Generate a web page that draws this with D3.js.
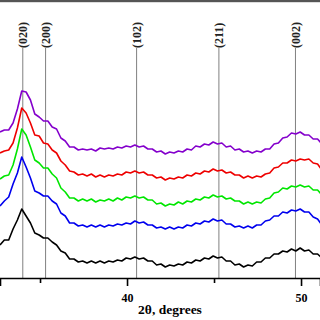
<!DOCTYPE html>
<html><head><meta charset="utf-8">
<script src="https://cdn.jsdelivr.net/npm/d3@7"></script>
<style>html,body{margin:0;padding:0;background:#fff;}svg{display:block;}</style>
</head><body>
<svg id="chart" width="320" height="320"></svg>
<script>
// 2θ grid (degrees)
const twoTheta = [32.70,32.95,33.20,33.45,33.70,33.95,34.20,34.45,34.70,34.95,35.20,35.45,35.70,35.95,36.20,36.45,36.70,36.95,37.20,37.45,37.70,37.95,38.20,38.45,38.70,38.95,39.20,39.45,39.70,39.95,40.20,40.45,40.70,40.95,41.20,41.45,41.70,41.95,42.20,42.45,42.70,42.95,43.20,43.45,43.70,43.95,44.20,44.45,44.70,44.95,45.20,45.45,45.70,45.95,46.20,46.45,46.70,46.95,47.20,47.45,47.70,47.95,48.20,48.45,48.70,48.95,49.20,49.45,49.70,49.95,50.20,50.45,50.70,50.95,51.20];
// intensities (a.u., stacked offsets)
const black  = [33,38,38,49,58,69,62,55,45,43,40,40,36,33,27,25,19,19,16,17,15,17,15,17,15,17,16,18,17,20,19,21,19,20,17,17,13,14,11,13,12,14,13,16,15,18,17,20,19,22,20,21,17,17,13,14,11,13,12,16,16,20,20,24,24,27,26,29,27,30,27,28,24,24,20];
const blue   = [72,77,81,94,105,121,111,100,87,85,82,82,77,74,65,62,55,55,52,53,51,53,51,53,51,53,52,54,53,55,54,57,55,56,53,53,50,51,49,51,49,51,50,53,52,55,54,57,56,59,57,58,54,54,51,52,50,52,50,53,53,57,58,62,62,66,65,68,67,69,66,66,61,59,53];
const green  = [99,102,103,113,129,149,143,131,118,115,110,110,104,100,90,86,80,80,77,79,77,79,76,78,77,79,77,80,78,81,80,82,80,81,78,78,74,75,72,74,73,76,74,77,76,79,78,81,80,83,81,82,79,80,77,77,74,76,74,76,75,79,80,85,86,90,89,92,91,93,91,92,88,88,83];
const red    = [125,127,128,135,150,170,165,155,143,142,135,134,128,125,117,113,107,106,103,104,102,104,101,103,101,103,102,104,103,106,105,107,105,106,103,103,100,101,98,100,99,101,100,103,102,105,104,107,106,109,107,108,105,106,103,103,100,102,100,102,101,104,105,110,111,115,115,118,117,119,118,119,115,114,108];
const purple = [146,148,148,155,169,187,186,178,164,161,157,157,151,149,140,137,131,131,128,129,128,129,127,130,129,130,129,131,130,132,131,133,131,132,129,129,126,127,124,126,125,127,126,129,128,132,131,134,133,136,134,135,131,132,128,129,126,127,125,127,126,129,129,134,135,140,141,145,144,146,143,143,139,139,134];
// reflections
const peakLabels = ["(020)","(200)","(102)","(211)","(002)"];
const peakPos    = [34.01,35.32,40.55,45.28,49.68];
// ticks
const majorTicks = [40,50];
const minorTicks = [35,45];
const xTitle = "2θ, degrees";

const series = [
  {values: black,  color: "#000000"},
  {values: blue,   color: "#0000ee"},
  {values: green,  color: "#00e600"},
  {values: red,    color: "#ee0000"},
  {values: purple, color: "#8400cc"}
];

const svg = d3.select("#chart");
const W = 320, H = 320;
const axisY = 278;
const x = d3.scaleLinear().domain([32.7, 51.09]).range([0, W]);
const y = d3.scaleLinear().domain([0, 276]).range([axisY, 2]);
const serif = "'Liberation Serif','Times New Roman',serif";

svg.append("rect").attr("width", W).attr("height", H).attr("fill", "#fff");
// top frame
svg.append("rect").attr("x", 0).attr("y", 0).attr("width", W).attr("height", 2.2).attr("fill", "#555");

// reference lines
const g = svg.append("g");
g.selectAll("line.ref").data(peakPos).join("line")
  .attr("x1", d => x(d)).attr("x2", d => x(d))
  .attr("y1", 48).attr("y2", axisY)
  .attr("stroke", "#808080").attr("stroke-width", 1);
g.selectAll("text.ref").data(peakPos).join("text")
  .attr("transform", d => `translate(${x(d)},48) rotate(-90)`)
  .attr("dy", "0.35em")
  .attr("font-family", serif).attr("font-size", 12).attr("font-weight", "bold")
  .attr("fill", "#222")
  .text((d, i) => peakLabels[i]);

// curves
const line = d3.line().x((d, i) => x(twoTheta[i])).y(d => y(d));
svg.append("g").selectAll("path").data(series).join("path")
  .attr("d", s => line(s.values))
  .attr("fill", "none").attr("stroke", s => s.color)
  .attr("stroke-width", 1.6).attr("stroke-linejoin", "round");

// axes
const major = d3.axisBottom(x).tickValues(majorTicks).tickSize(8).tickPadding(7).tickFormat(d3.format("d"));
const minor = d3.axisBottom(x).tickValues(minorTicks).tickSize(5).tickFormat("");
const ga = svg.append("g").attr("transform", `translate(0,${axisY})`).call(major);
const gm = svg.append("g").attr("transform", `translate(0,${axisY})`).call(minor);
gm.select(".domain").remove();
ga.select(".domain").attr("stroke", "#000").attr("stroke-width", 1.6);
ga.selectAll(".tick line").attr("stroke-width", 1.6);
gm.selectAll(".tick line").attr("stroke-width", 1.6);
ga.selectAll("text").attr("font-family", serif).attr("font-size", 12).attr("font-weight", "bold").attr("fill", "#000");

svg.append("text").attr("x", 170).attr("y", 314).attr("text-anchor", "middle")
  .attr("font-family", serif).attr("font-size", 13.5).attr("font-weight", "bold")
  .text(xTitle);
</script>
</body></html>
